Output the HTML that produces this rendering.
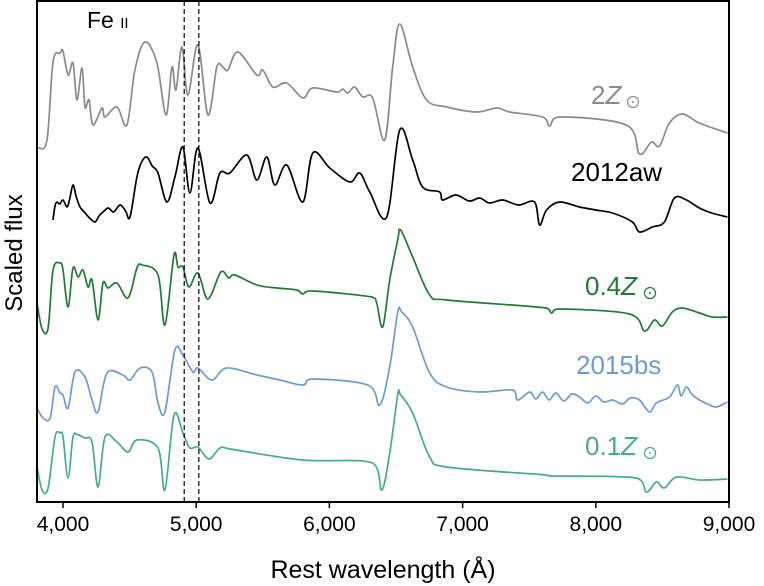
<!DOCTYPE html>
<html><head><meta charset="utf-8"><style>
body{margin:0;background:#fff;width:764px;height:586px;overflow:hidden}
svg{display:block;font-family:"Liberation Sans",Arial,sans-serif}
</style></head><body>
<svg id="chart" width="764" height="586" viewBox="0 0 764 586">
<g id="series"></g>
<g id="axes"></g>
<g id="labels"></g>
</svg>
<script>
const xTicks=[4000,5000,6000,7000,8000,9000];
const xTickLabels=["4,000","5,000","6,000","7,000","8,000","9,000"];
const feLines=[4910,5020];
const grayW=[3812,3880,3925,3978,4000,4038,4075,4105,4143,4165,4195,4225,4293,4315,4405,4480,4540,4615,4705,4773,4818,4848,4893,4938,5013,5088,5155,5200,5238,5313,5455,5500,5575,5680,5800,5875,6055,6100,6138,6190,6250,6325,6415,6475,6528,6625,6730,6880,7105,7255,7353,7600,7653,7728,8230,8328,8418,8478,8553,8650,8778,8988];
const grayF=[354,362,440,449,451,427,439,402,434,395,402,377,394,385,395,377,432,460,439,387,435,412,455,407,457,387,435,435,432,450,427,432,415,419,404,414,410,413,409,415,405,404,362,435,478,435,402,395,390,394,390,385,376,385,377,348,360,356,379,388,379,369];
const blackW=[3925,3940,3955,3975,4000,4030,4050,4075,4100,4128,4160,4200,4240,4270,4300,4340,4380,4428,4470,4503,4555,4590,4630,4670,4713,4780,4840,4900,4953,5013,5103,5178,5253,5380,5455,5530,5590,5680,5800,5875,6003,6153,6228,6303,6430,6528,6625,6700,6828,6850,6950,7050,7128,7203,7300,7420,7540,7578,7630,7728,7878,8000,8125,8275,8328,8425,8515,8590,8680,8778,8870,8988];
const blackF=[282,296,300,298,302,295,303,317,305,295,290,284,280,286,290,294,290,297,291,285,325,340,345,336,329,300,325,355,309,354,299,329,329,347,322,345,317,337,300,349,334,320,329,310,285,372,342,315,310,302,307,301,304,299,302,297,300,277,292,300,295,292,289,280,270,275,280,304,302,294,289,285];
const greenW=[3805,3843,3888,3925,3978,4000,4038,4075,4113,4150,4188,4218,4263,4300,4338,4405,4488,4555,4593,4713,4765,4833,4863,4900,4945,5013,5088,5185,5245,5290,5455,5605,5755,5800,5875,6318,6355,6400,6453,6513,6535,6625,6753,6880,7630,7668,7728,8253,8365,8440,8500,8575,8650,8778,8875,8988];
const greenF=[199,173,174,232,239,232,195,234,225,232,215,222,182,219,214,219,204,234,237,227,177,247,235,235,215,229,203,230,224,227,217,214,212,208,211,205,199,175,222,262,272,245,207,202,194,189,193,188,171,182,176,190,194,189,185,185];
const blueW=[3805,3850,3903,3940,3978,4000,4038,4090,4165,4218,4263,4330,4450,4503,4578,4668,4713,4765,4840,4900,4975,5013,5118,5230,5455,5628,5800,5875,6288,6378,6453,6513,6543,6625,6753,6880,7128,7375,7413,7503,7550,7600,7650,7700,7760,7820,7878,7940,8000,8060,8125,8200,8260,8328,8403,8455,8553,8613,8640,8680,8720,8778,8840,8905,8988];
const blueF=[94,84,84,115,109,107,94,130,125,102,90,129,127,122,134,130,99,90,152,147,130,134,122,134,127,122,117,123,117,97,135,190,190,175,129,115,110,112,102,110,103,110,102,109,101,108,105,99,106,100,102,98,104,102,90,99,105,117,106,115,108,102,98,95,100];
const tealW=[3805,3843,3888,3940,3978,4000,4038,4075,4113,4165,4218,4263,4315,4405,4488,4555,4713,4765,4833,4900,4953,5013,5095,5178,5253,5800,6325,6393,6453,6513,6535,6625,6753,6880,7630,7668,8305,8380,8455,8515,8605,8778,8988];
const tealF=[35,12,14,65,69,65,24,65,67,64,60,15,65,60,50,62,54,12,87,69,54,55,43,54,53,42,39,12,49,107,107,89,45,35,27,26,24,10,20,14,25,22,23];

const L=37,R=729,T=1,B=502;
function xs(w){return 63+(w-4000)*0.1332;}
function ys(f){return B-f;}
const NS="http://www.w3.org/2000/svg";
function mk(tag,parent,attrs){const e=document.createElementNS(NS,tag);for(const k in attrs)e.setAttribute(k,attrs[k]);parent.appendChild(e);return e;}
const sg=document.getElementById('series');
const ag=document.getElementById('axes');

function smoothPath(P){
  let d="M"+P[0][0].toFixed(1)+","+P[0][1].toFixed(1);
  const t=0.5;
  for(let i=0;i<P.length-1;i++){
    const p0=P[i-1]||P[i],p1=P[i],p2=P[i+1],p3=P[i+2]||P[i+1];
    let c1x=p1[0]+(p2[0]-p0[0])*t/3,c1y=p1[1]+(p2[1]-p0[1])*t/3;
    let c2x=p2[0]-(p3[0]-p1[0])*t/3,c2y=p2[1]-(p3[1]-p1[1])*t/3;
    c1x=Math.min(Math.max(c1x,p1[0]),p2[0]);c2x=Math.min(Math.max(c2x,p1[0]),p2[0]);
    d+="C"+c1x.toFixed(1)+","+c1y.toFixed(1)+" "+c2x.toFixed(1)+","+c2y.toFixed(1)+" "+p2[0].toFixed(1)+","+p2[1].toFixed(1);
  }
  return d;
}
function drawSeries(W,F,color,name){
  const P=W.map(function(w,i){return [xs(w),ys(F[i])];});
  const p=mk('path',sg,{d:smoothPath(P),fill:'none',stroke:color,'stroke-width':1.7,'stroke-linejoin':'round'});
  
  
}
drawSeries(grayW,grayF,'#8a8a8a','spectrum-2zsun');
drawSeries(blackW,blackF,'#000','spectrum-2012aw');
drawSeries(greenW,greenF,'#1f7a35','spectrum-0.4zsun');
drawSeries(blueW,blueF,'#6b9bd2','spectrum-2015bs');
drawSeries(tealW,tealF,'#48aa90','spectrum-0.1zsun');

feLines.forEach(function(w){
  const l=mk('line',ag,{x1:xs(w),x2:xs(w),y1:T,y2:B,stroke:'#000','stroke-width':1.2,'stroke-dasharray':'5,3'});
  
  
});

const frame=mk('rect',ag,{x:L,y:T,width:R-L,height:B-T,fill:'none',stroke:'#000','stroke-width':2});



xTicks.forEach(function(t,i){
  const tk=mk('line',ag,{x1:xs(t),x2:xs(t),y1:B,y2:B+6,stroke:'#000','stroke-width':1.5});
  
  
  const tx=mk('text',ag,{x:xs(t),y:531,'text-anchor':'middle','font-size':21,fill:'#000'});
  tx.textContent=xTickLabels[i];
  
  
});
</script>
<script>
(function(){
const lg=document.getElementById('labels');
lg.innerHTML=
'<text x="383" y="578" text-anchor="middle" font-size="25" fill="#000">Rest wavelength (Å)</text>'+
'<text transform="translate(22,253) rotate(-90)" text-anchor="middle" font-size="24" fill="#000">Scaled flux</text>'+
'<text x="87" y="28" font-size="23" fill="#000">Fe <tspan font-size="15">II</tspan></text>'+
'<text x="591" y="104" font-size="26" fill="#8a8a8a">2<tspan font-style="italic">Z</tspan></text>'+
'<circle cx="633" cy="102" r="5.5" fill="none" stroke="#8a8a8a" stroke-width="1.2"/><circle cx="633" cy="102" r="1" fill="#8a8a8a"/>'+
'<text x="571" y="181" font-size="26" fill="#000">2012aw</text>'+
'<text x="585" y="295" font-size="26" fill="#1f7a35">0.4<tspan font-style="italic">Z</tspan></text>'+
'<circle cx="650" cy="293" r="5.5" fill="none" stroke="#1f7a35" stroke-width="1.2"/><circle cx="650" cy="293" r="1" fill="#1f7a35"/>'+
'<text x="576" y="374" font-size="26" fill="#6b9bd2">2015bs</text>'+
'<text x="585" y="455" font-size="26" fill="#48aa90">0.1<tspan font-style="italic">Z</tspan></text>'+
'<circle cx="650" cy="453" r="5.5" fill="none" stroke="#48aa90" stroke-width="1.2"/><circle cx="650" cy="453" r="1" fill="#48aa90"/>';
})();
</script>
</body></html>
